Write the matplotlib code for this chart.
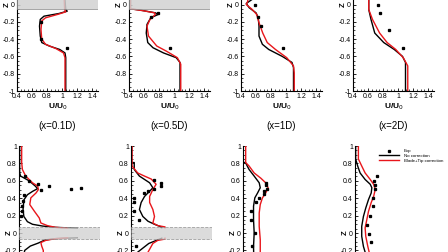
import numpy as np
import matplotlib.pyplot as plt
import matplotlib.transforms as mtransforms
from matplotlib.ticker import MultipleLocator, AutoMinorLocator, FuncFormatter, FixedLocator
from matplotlib.lines import Line2D

plt.rcParams['font.family'] = ['Liberation Sans', 'DejaVu Sans']
plt.rcParams['axes.unicode_minus'] = False

stations = ["(x=0.1D)", "(x=0.5D)", "(x=1D)", "(x=2D)"]
has_nacelle = [True, True, False, False]

# ---- top row: U/U0 vs Z ----
z_nc_top = [
    [0.2, 0.05, -0.058, -0.077, -0.104, -0.135, -0.173, -0.25, -0.365, -0.44, -0.48, -0.52, -0.56, -0.615, -1.0],
    [0.2, -0.05, -0.065, -0.096, -0.115, -0.154, -0.23, -0.33, -0.44, -0.5, -0.56, -0.615, -0.67, -1.0],
    [0.15, 0.06, 0.012, -0.038, -0.096, -0.154, -0.25, -0.365, -0.46, -0.52, -0.6, -0.67, -0.73, -1.0],
    [0.15, 0.058, -0.058, -0.173, -0.33, -0.44, -0.52, -0.6, -0.67, -1.0],
]
u_nc_top = [
    [1.04, 1.04, 1.05, 1.07, 0.96, 0.76, 0.71, 0.70, 0.71, 0.73, 0.83, 0.97, 1.04, 1.05, 1.05],
    [0.42, 0.42, 0.55, 0.75, 0.79, 0.69, 0.64, 0.63, 0.65, 0.72, 0.86, 1.03, 1.08, 1.08],
    [0.62, 0.55, 0.47, 0.51, 0.60, 0.63, 0.64, 0.64, 0.685, 0.77, 0.95, 1.08, 1.10, 1.10],
    [0.62, 0.61, 0.61, 0.64, 0.69, 0.81, 0.95, 1.06, 1.10, 1.10],
]
z_bt_top = [
    [0.2, 0.05, -0.058, -0.085, -0.115, -0.154, -0.19, -0.29, -0.40, -0.46, -0.51, -0.56, -0.615, -1.0],
    [0.2, -0.05, -0.07, -0.096, -0.115, -0.173, -0.25, -0.365, -0.48, -0.54, -0.615, -0.69, -1.0],
    [0.15, 0.038, 0.0, -0.058, -0.115, -0.21, -0.33, -0.44, -0.52, -0.615, -0.71, -0.79, -1.0],
    [0.15, 0.058, -0.058, -0.173, -0.33, -0.44, -0.52, -0.615, -0.71, -1.0],
]
u_bt_top = [
    [1.03, 1.03, 1.035, 1.05, 0.94, 0.78, 0.73, 0.72, 0.73, 0.78, 0.92, 1.02, 1.04, 1.04],
    [0.42, 0.42, 0.575, 0.74, 0.75, 0.68, 0.64, 0.66, 0.77, 0.9, 1.045, 1.09, 1.09],
    [0.5, 0.49, 0.47, 0.55, 0.61, 0.64, 0.69, 0.75, 0.86, 1.01, 1.10, 1.11, 1.11],
    [0.62, 0.61, 0.61, 0.66, 0.755, 0.855, 0.97, 1.07, 1.13, 1.13],
]
z_exp_top = [[-0.2, -0.4, -0.5], [-0.1, -0.15, -0.5], [0.0, -0.15, -0.25, -0.5], [0.0, -0.1, -0.3, -0.5]]
u_exp_top = [[0.72, 0.72, 1.06], [0.79, 0.69, 0.95], [0.59, 0.63, 0.66, 0.96], [0.73, 0.76, 0.88, 1.07]]

# ---- bottom row: second quantity vs Z (its x axis lies below the visible area) ----
z_nc_bot = [
    [[1.0, 0.69, 0.654, 0.6, 0.54, 0.51, 0.48, 0.44, 0.38, 0.27, 0.19, 0.13, 0.1, 0.08, 0.065, 0.055],
     [-0.055, -0.065, -0.08, -0.115, -0.15, -0.2, -0.5]],
    [[1.0, 0.81, 0.81, 0.73, 0.654, 0.577, 0.52, 0.48, 0.42, 0.35, 0.27, 0.19, 0.135, 0.1, 0.075, 0.06],
     [-0.06, -0.075, -0.09, -0.12, -0.22, -0.5]],
    [[1.0, 0.81, 0.81, 0.73, 0.654, 0.577, 0.52, 0.46, 0.404, 0.308, 0.154, 0.0, -0.154, -0.5]],
    [[1.0, 0.85, 0.77, 0.69, 0.615, 0.56, 0.52, 0.46, 0.385, 0.288, 0.19, 0.077, -0.038, -0.154, -0.22, -0.5]],
]
v_nc_bot = [
    [[0.008, 0.008, 0.02, 0.125, 0.2, 0.23, 0.17, 0.104, 0.06, 0.05, 0.06, 0.104, 0.167, 0.29, 0.45, 0.72],
     [0.72, 0.45, 0.32, 0.24, 0.14, 0.07, 0.02]],
    [[0.008, 0.008, 0.04, 0.04, 0.104, 0.23, 0.27, 0.23, 0.167, 0.125, 0.104, 0.146, 0.21, 0.29, 0.36, 0.38],
     [0.38, 0.34, 0.3, 0.22, 0.083, 0.03]],
    [[0.004, 0.004, 0.03, 0.075, 0.138, 0.2, 0.213, 0.18, 0.146, 0.13, 0.13, 0.138, 0.13, 0.138]],
    [[0.008, 0.008, 0.033, 0.063, 0.125, 0.188, 0.208, 0.2, 0.167, 0.133, 0.104, 0.083, 0.083, 0.104, 0.125, 0.17]],
]
z_bt_bot = [
    [[1.0, 0.81, 0.73, 0.654, 0.577, 0.54, 0.5, 0.46, 0.404, 0.327, 0.25, 0.173, 0.115, 0.085, 0.065, 0.055],
     [-0.055, -0.065, -0.085, -0.11, -0.15, -0.2, -0.5]],
    [[1.0, 0.77, 0.69, 0.654, 0.62, 0.56, 0.5, 0.42, 0.35, 0.27, 0.19, 0.115, 0.085, 0.07, 0.06],
     [-0.06, -0.07, -0.085, -0.12, -0.22, -0.5]],
    [[1.0, 0.81, 0.77, 0.69, 0.63, 0.577, 0.52, 0.46, 0.404, 0.327, 0.23, 0.077, -0.077, -0.5]],
    [[1.0, 0.85, 0.77, 0.69, 0.615, 0.56, 0.5, 0.42, 0.35, 0.25, 0.154, 0.058, -0.038, -0.154, -0.22, -0.5]],
]
v_bt_bot = [
    [[0.033, 0.033, 0.042, 0.083, 0.167, 0.23, 0.24, 0.21, 0.146, 0.133, 0.19, 0.25, 0.27, 0.35, 0.45, 0.6],
     [0.6, 0.45, 0.33, 0.27, 0.28, 0.3, 0.3]],
    [[0.013, 0.013, 0.083, 0.167, 0.25, 0.31, 0.27, 0.23, 0.23, 0.27, 0.29, 0.27, 0.33, 0.42, 0.42],
     [0.42, 0.42, 0.33, 0.27, 0.21, 0.17]],
    [[0.033, 0.033, 0.075, 0.138, 0.22, 0.28, 0.31, 0.28, 0.24, 0.213, 0.2, 0.2, 0.213, 0.213]],
    [[0.042, 0.042, 0.083, 0.125, 0.188, 0.23, 0.25, 0.23, 0.2, 0.167, 0.146, 0.125, 0.133, 0.158, 0.175, 0.22]],
]
z_exp_bot = [
    [0.65, 0.6, 0.56, 0.49, 0.54, 0.51, 0.52, 0.44, 0.37, 0.31, 0.25, 0.2],
    [0.61, 0.58, 0.54, 0.51, 0.48, 0.46, 0.404, 0.354, 0.25, 0.146, -0.146],
    [0.57, 0.546, 0.508, 0.48, 0.454, 0.404, 0.354, 0.25, 0.146, 0.0, -0.146],
    [0.654, 0.6, 0.55, 0.508, 0.404, 0.308, 0.19, 0.096, -0.008, -0.108],
]
v_exp_bot = [
    [0.08, 0.125, 0.24, 0.27, 0.375, 0.64, 0.77, 0.06, 0.05, 0.04, 0.04, 0.03],
    [0.29, 0.375, 0.367, 0.29, 0.21, 0.158, 0.042, 0.033, 0.033, 0.104, 0.063],
    [0.283, 0.29, 0.296, 0.254, 0.26, 0.2, 0.158, 0.096, 0.104, 0.146, 0.117],
    [0.27, 0.23, 0.25, 0.242, 0.217, 0.217, 0.188, 0.146, 0.167, 0.2],
]

top_yticks = [-1.0, -0.8, -0.6, -0.4, -0.2, 0.0]
bot_yticks = [-0.2, 0.0, 0.2, 0.4, 0.6, 0.8, 1.0]
top_xticks = [0.4, 0.6, 0.8, 1.0, 1.2, 1.4]

W, H = 448.0, 252.0
red = '#e8161b'
lw = 1.0
fmt = FuncFormatter(lambda v, p: '%g' % round(v, 3))

fig = plt.figure(figsize=(4.48, 2.52), dpi=100)


def px_axes(left, top, width, height):
    return fig.add_axes([left / W, 1 - (top + height) / H, width / W, height / H])


def style(ax, yticks):
    for s in ['top', 'right']:
        ax.spines[s].set_visible(False)
    for s in ['left', 'bottom']:
        ax.spines[s].set_linewidth(0.8)
    ax.yaxis.set_major_locator(FixedLocator(yticks))
    ax.yaxis.set_minor_locator(FixedLocator(np.arange(yticks[0], yticks[-1] + 0.01, 0.05)))
    ax.yaxis.set_major_formatter(fmt)
    ax.tick_params(axis='both', which='major', direction='in', length=2.5, width=0.6,
                   labelsize=5, pad=1.5)
    ax.tick_params(axis='both', which='minor', direction='in', length=1.3, width=0.5)
    ax.set_facecolor('none')
    tr = mtransforms.blended_transform_factory(ax.transAxes, ax.transData)
    ax.text(-0.12, 0, 'Z', transform=tr, rotation=90, ha='center', va='center',
            fontsize=5.5, fontweight='bold')


for i in range(4):
    # top row
    ax = px_axes(17 + 112 * i, -12.8, 81, 103.8)
    style(ax, top_yticks)
    ax.set_xlim(0.4, 1.48)
    ax.set_ylim(-1.0, 0.2)
    ax.xaxis.set_major_locator(FixedLocator(top_xticks))
    ax.xaxis.set_minor_locator(FixedLocator(np.arange(0.4, 1.46, 0.05)))
    ax.xaxis.set_major_formatter(fmt)
    ax.plot(u_nc_top[i], z_nc_top[i], color='black', lw=lw, zorder=2)
    ax.plot(u_bt_top[i], z_bt_top[i], color=red, lw=lw, zorder=2)
    ax.plot(u_exp_top[i], z_exp_top[i], 's', color='black', ms=1.4, zorder=4)
    if has_nacelle[i]:
        ax.axhspan(-0.05, 0.2, facecolor='#d2d2d2', edgecolor='#8c8c8c', lw=0.6,
                   alpha=0.85, zorder=3)
    ax.set_xlabel('U/U$_0$', fontsize=6, fontweight='bold', labelpad=1)
    ax.text(0.5, -0.34, stations[i], transform=ax.transAxes, ha='center', va='center',
            fontsize=7)

    # bottom row
    ax = px_axes(19 + 112 * i, 146, 81, 130.5)
    style(ax, bot_yticks)
    ax.set_xlim(0, 1)
    ax.set_ylim(-0.5, 1.0)
    ax.tick_params(axis='x', which='both', bottom=False, labelbottom=False)
    for zz, vv in zip(z_nc_bot[i], v_nc_bot[i]):
        ax.plot(vv, zz, color='black', lw=lw, zorder=2)
    for zz, vv in zip(z_bt_bot[i], v_bt_bot[i]):
        ax.plot(vv, zz, color=red, lw=lw, zorder=2)
    ax.plot(v_exp_bot[i], z_exp_bot[i], 's', color='black', ms=1.4, zorder=4)
    if has_nacelle[i]:
        ax.axhspan(-0.065, 0.065, facecolor='#d2d2d2', edgecolor='#8c8c8c', lw=0.6,
                   ls='--', alpha=0.8, zorder=3)

handles = [Line2D([], [], ls='none', marker='s', color='black', ms=1.4),
           Line2D([], [], color='black', lw=lw),
           Line2D([], [], color=red, lw=lw)]
fig.legend(handles, ['Exp', 'No correction', 'Blade+Tip correction'],
           loc='upper left', bbox_to_anchor=(376 / W, 1 - 146 / H), frameon=False,
           fontsize=3.2, handlelength=4.5, handletextpad=1.0, labelspacing=0.15,
           borderpad=0.2)

fig.savefig('out.png', dpi=100)
